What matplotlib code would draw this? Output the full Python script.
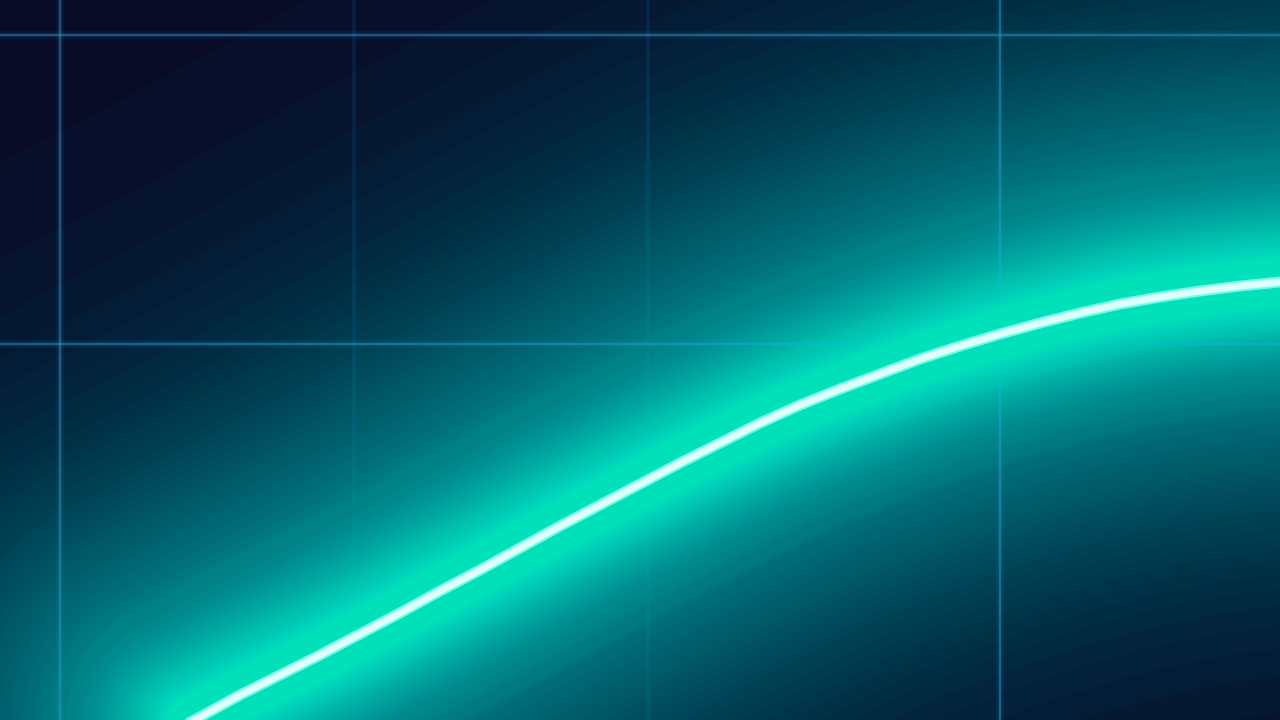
import numpy as np
import matplotlib.pyplot as plt

# curve (x: 0..12.8 across, y: 0..7.2 up)
curve_x = [1.6, 2.0, 2.4, 2.8, 3.2, 3.6, 4.0, 4.4, 4.8, 5.2, 5.6, 6.0, 6.4, 6.8, 7.2,
           7.6, 8.0, 8.4, 8.8, 9.2, 9.6, 10.0, 10.4, 10.8, 11.2, 11.6, 12.0, 12.4, 12.8,
           13.2, 13.6]
curve_y = [-0.18, 0.03, 0.25, 0.45, 0.65, 0.86, 1.07, 1.29, 1.50, 1.72, 1.94, 2.15,
           2.36, 2.57, 2.77, 2.97, 3.15, 3.31, 3.46, 3.61, 3.74, 3.86, 3.97, 4.07, 4.16,
           4.23, 4.29, 4.34, 4.38, 4.42, 4.45]

grid_x_major = [0.6, 10.0]
grid_x_minor = [3.54, 6.48]
grid_y_major = [3.76, 6.85]

dpi = 100
fig = plt.figure(figsize=(12.8, 7.2), dpi=dpi, facecolor='#080a26')
ax = fig.add_axes([0, 0, 1, 1])
ax.set_facecolor('#080a26')
ax.set_xlim(0, 12.8)
ax.set_ylim(0, 7.2)
ax.axis('off')

px = 72 / dpi  # points per pixel

# faint minor grid
for x in grid_x_minor:
    ax.axvline(x, color='#1a5a9a', lw=4 * px, alpha=0.2, zorder=1)

# wide soft glow, a little above the line
glow_y = [y + 0.1 for y in curve_y]
n_far = 100
for i in range(1, n_far + 1):
    h = 125 * np.log(n_far / i)
    if h < 1:
        continue
    ax.plot(curve_x, glow_y, color='#00b8b8', lw=2 * h * px, alpha=0.03,
            solid_capstyle='round', zorder=2)

# major grid
for x in grid_x_major:
    ax.axvline(x, color='#2a9ad0', lw=2.5 * px, alpha=0.5, zorder=3)
    ax.axvline(x, color='#2a9ad0', lw=8 * px, alpha=0.07, zorder=3)
for y in grid_y_major:
    ax.axhline(y, color='#2a9ad0', lw=2.5 * px, alpha=0.5, zorder=3)
    ax.axhline(y, color='#2a9ad0', lw=8 * px, alpha=0.07, zorder=3)

# tight bright glow
n_near = 130
for i in range(1, n_near + 1):
    h = 26 * np.log(n_near / i)
    if h < 1:
        continue
    ax.plot(curve_x, curve_y, color='#00ffd8', lw=2 * h * px, alpha=0.031,
            solid_capstyle='round', zorder=4)

# core line
ax.plot(curve_x, curve_y, color='#7ffff0', lw=11 * px, alpha=0.9, zorder=5)
ax.plot(curve_x, curve_y, color='#dcfffb', lw=7 * px, zorder=6)

fig.savefig('out.png', dpi=dpi, facecolor=fig.get_facecolor())
